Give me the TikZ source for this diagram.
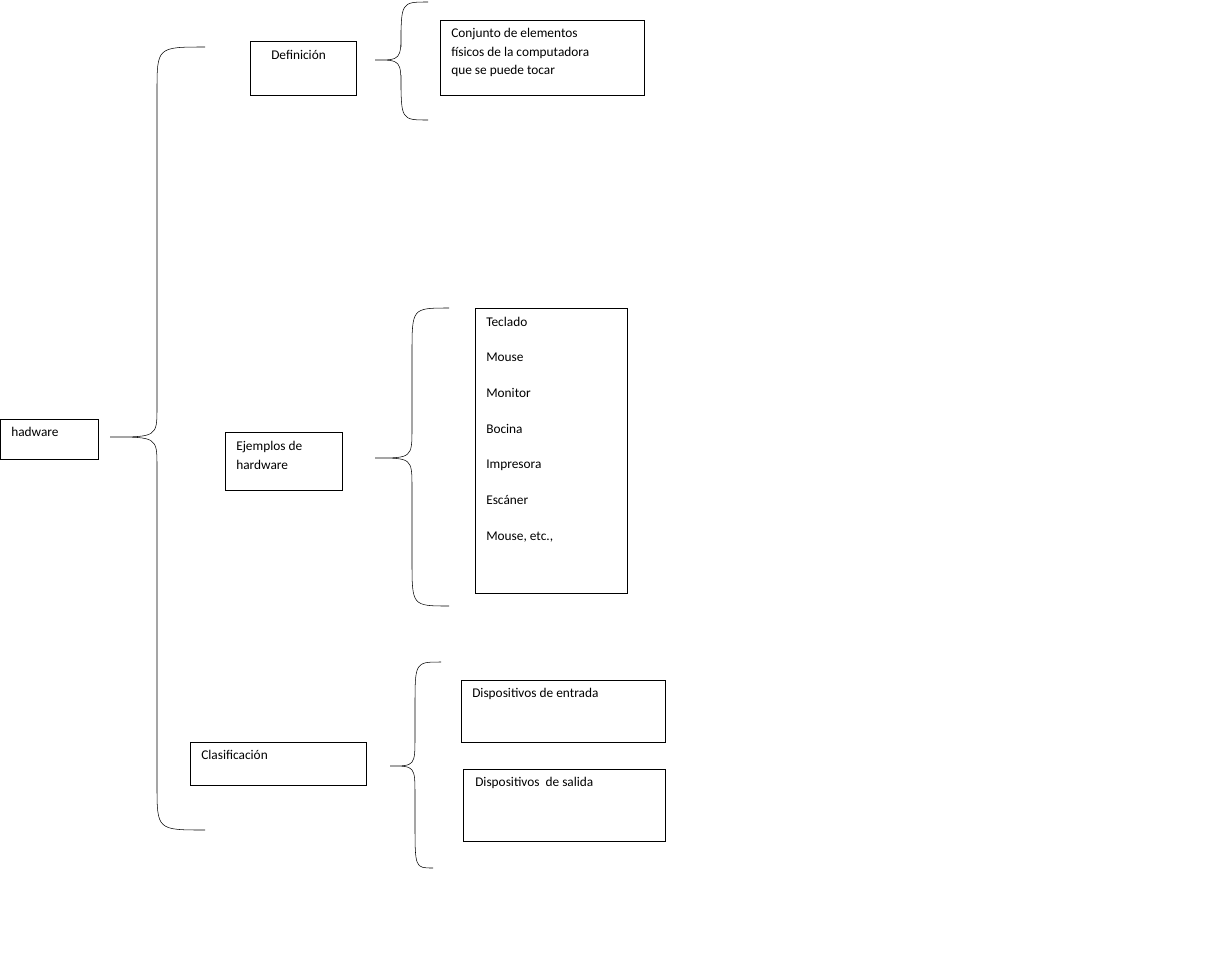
\documentclass[tikz,border=0pt]{standalone}
\usepackage{fontspec}
\setmainfont{Carlito}
\usetikzlibrary{positioning}
\tikzset{box/.style={draw, thin}, lbl/.style={anchor=north west, inner sep=0pt, font=\fontsize{10}{12}\selectfont, align=left}}
% brace: #1 top x, #2 top y, #3 spine x, #4 tip x, #5 tip y, #6 bottom x, #7 bottom y
\newcommand{\curlyb}[7]{%
  \draw (#1,#2) .. controls (#3,#2) .. (#3,#2+45) -- (#3,#5-30) .. controls (#3,#5) .. (#4,#5)
        .. controls (#3,#5) .. (#3,#5+30) -- (#3,#7-45) .. controls (#3,#7) .. (#6,#7);}
\begin{document}
\begin{tikzpicture}[x=0.75pt,y=-0.75pt]
  \useasboundingbox (0,0) rectangle (1218,972);
  \draw[box] (0,419) rectangle (98,459);
  \node[lbl] (hw) at (11,427) {hadware};
  \draw[box] (250,41) rectangle (356,95);
  \node[lbl] (def) at (271,50) {Definición};
  \draw[box] (440,20) rectangle (644,95);
  \node[lbl] (conj) at (451,28) {Conjunto de elementos\\[2pt]físicos de la computadora\\[2pt]que se puede tocar};
  \draw[box] (225,432) rectangle (342,490);
  \node[lbl] (ej) at (236,441) {Ejemplos de\\[2pt]hardware};
  \draw[box] (475,308) rectangle (627,593);
  \foreach \t [count=\i from 0] in {Teclado,Mouse,Monitor,Bocina,Impresora,Escáner,{Mouse, etc.,}}
    \node[lbl] (item\i) at (486,317+35.7*\i) {\t};
  \draw[box] (190,742) rectangle (366,785);
  \node[lbl] (clas) at (201,750) {Clasificación};
  \draw[box] (461,680) rectangle (665,742);
  \node[lbl] (ent) at (472,688) {Dispositivos de entrada};
  \draw[box] (463,769) rectangle (665,841);
  \node[lbl] (sal) at (475,777) {Dispositivos\ \ de salida};
  % braces
  \curlyb{205}{47}{157}{110}{437}{205}{830}
  \curlyb{428}{2}{401}{375}{60}{428}{120}
  \curlyb{449}{308}{412}{375}{458}{449}{606}
  \curlyb{441}{662}{415}{390}{766}{433}{868}
\end{tikzpicture}
\end{document}
